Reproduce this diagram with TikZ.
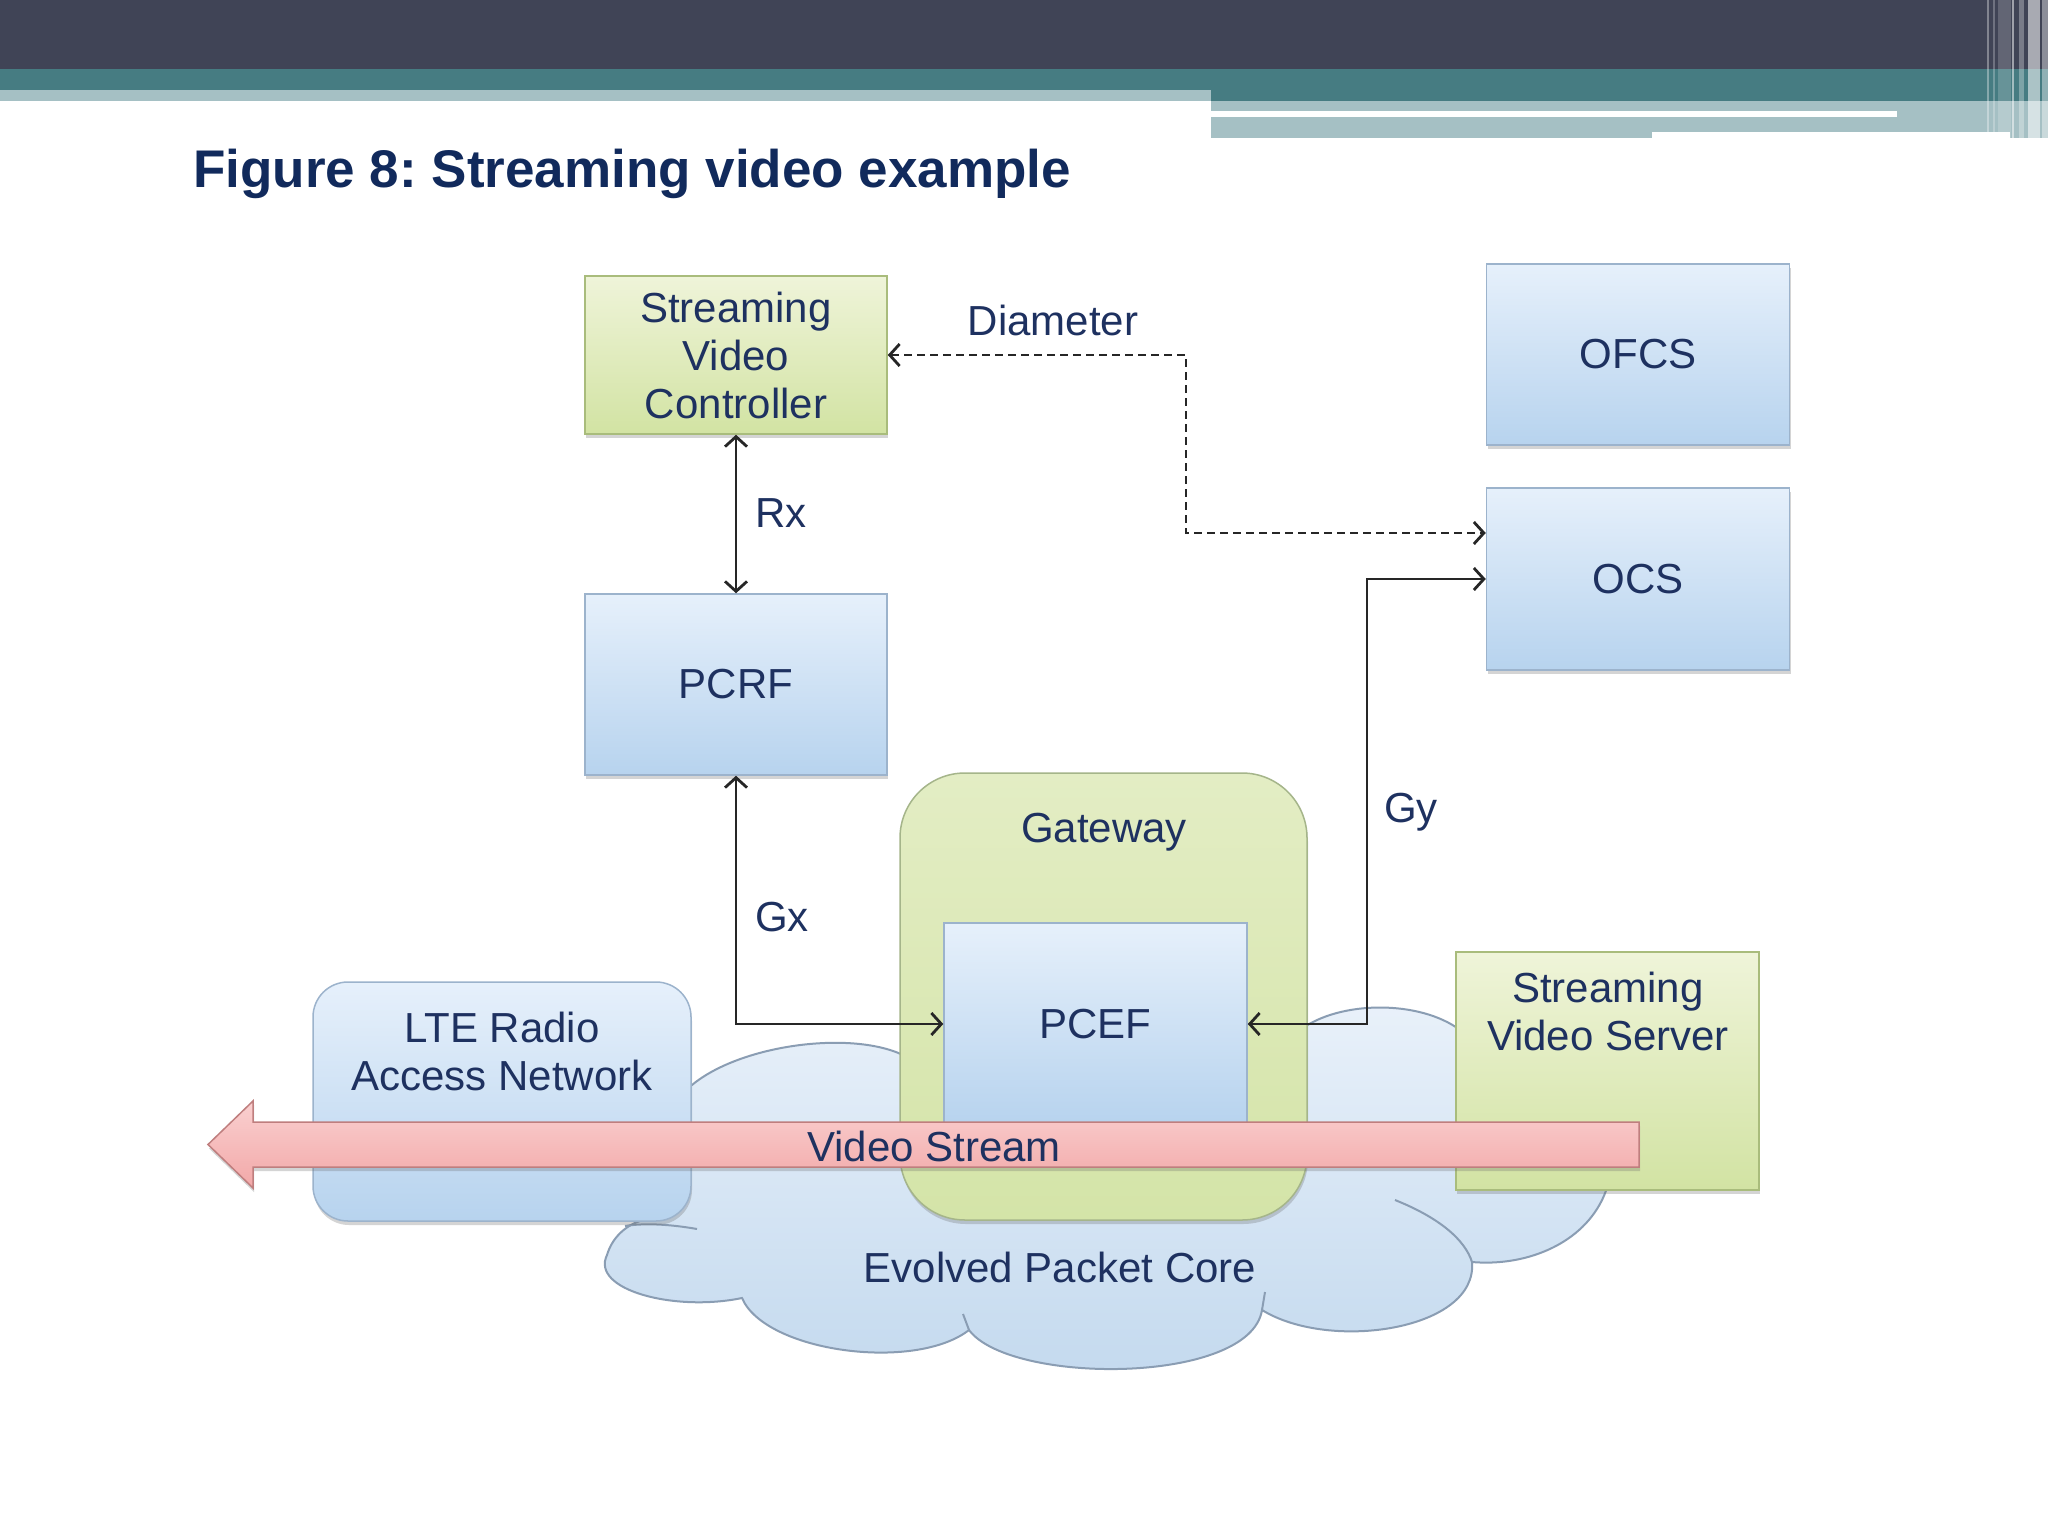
\documentclass[tikz,border=0pt]{standalone}
\usepackage{fontspec}
\setmainfont{Liberation Sans}
\frenchspacing
\usetikzlibrary{arrows.meta,shadows,calc}
\definecolor{hdark}{HTML}{404456}
\definecolor{hteal}{HTML}{467C82}
\definecolor{hlight}{HTML}{A5C0C4}
\definecolor{titlenavy}{HTML}{112A5C}
\definecolor{navy}{HTML}{1E3160}
\definecolor{bluetop}{HTML}{E6F0FB}
\definecolor{bluebot}{HTML}{B7D3EE}
\definecolor{blueedge}{HTML}{9CB3CC}
\definecolor{greentop}{HTML}{EFF4D9}
\definecolor{greenbot}{HTML}{D2E3A3}
\definecolor{greenedge}{HTML}{A9BC7C}
\definecolor{gatefill}{HTML}{E3EDC4}
\definecolor{gatebot}{HTML}{D4E4A8}
\definecolor{gateedge}{HTML}{A5B58A}
\definecolor{cloudtop}{HTML}{E9F1FA}
\definecolor{cloudbot}{HTML}{C3D9EE}
\definecolor{cloudedge}{HTML}{8A9DB3}
\definecolor{pinktop}{HTML}{FAD0D0}
\definecolor{pinkbot}{HTML}{F2A8A8}
\definecolor{pinkedge}{HTML}{BF7E7E}
\tikzset{
  txt/.style={font=\fontsize{42}{48}\selectfont, text=navy, align=center, inner sep=0pt},
  boxbase/.style={txt, draw, line width=1.5pt},
  shade/.style={drop shadow={shadow xshift=1pt, shadow yshift=-4pt, opacity=0.28, fill=black!60}},
  bluebox/.style={boxbase, draw=blueedge, top color=bluetop, bottom color=bluebot, shade},
  greenbox/.style={boxbase, draw=greenedge, top color=greentop, bottom color=greenbot, shade},
  gatebox/.style={boxbase, draw=gateedge, top color=gatefill, bottom color=gatebot, rounded corners=65pt, shade},
  conn/.style={draw=black!85, line width=2.8pt, {Straight Barb[length=10pt,width=22pt]}-{Straight Barb[length=10pt,width=22pt]}},
  dconn/.style={conn, dash pattern=on 8pt off 5pt},
  lbl/.style={txt},
}
\begin{document}
\begin{tikzpicture}[x=1pt,y=-1pt]
\useasboundingbox (0,0) rectangle (2048,1536);
\fill[white] (0,0) rectangle (2048,1536);
% header bands
\fill[hdark] (0,0) rectangle (2048,69);
\fill[hteal] (0,69) rectangle (2048,101);
\fill[hlight] (0,90) rectangle (1211,101);
\fill[hlight] (1211,101) rectangle (2048,138);
\fill[white] (1211,111) rectangle (1897,117);
\fill[white] (1652,132) rectangle (2010,138);
\fill[white,opacity=0.35] (1987,0) rectangle (1989,138);
\fill[white,opacity=0.25] (1993,0) rectangle (1995,138);
\fill[white,opacity=0.18] (1998,0) rectangle (2011,138);
\fill[white,opacity=0.5] (2012,0) rectangle (2014,138);
\fill[white,opacity=0.3] (2019,0) rectangle (2024,138);
\fill[white,opacity=0.55] (2028,0) rectangle (2040,138);
\fill[white,opacity=0.4] (2042,0) rectangle (2048,138);
% title
\node[anchor=base west, inner sep=0pt, text=titlenavy, font=\bfseries\fontsize{53}{60}\selectfont] (title) at (193,187) {Figure 8: Streaming video example};
% cloud
\path[draw=cloudedge, line width=2pt, top color=cloudtop, bottom color=cloudbot]
  (640,1221) -- (640,1090) -- (692,1085)
  .. controls (740,1045) and (850,1030) .. (903,1055)
  -- (1300,1030)
  .. controls (1340,1000) and (1420,1000) .. (1460,1030)
  -- (1612,1150)
  .. controls (1615,1230) and (1540,1268) .. (1472,1262)
  .. controls (1478,1330) and (1330,1352) .. (1262,1310)
  .. controls (1250,1385) and (1010,1385) .. (969,1330)
  .. controls (915,1372) and (765,1352) .. (742,1298)
  .. controls (675,1312) and (590,1290) .. (607,1255)
  .. controls (612,1238) and (625,1226) .. (640,1221) -- cycle;
\draw[cloudedge, line width=2pt] (1395,1200) .. controls (1440,1218) and (1465,1240) .. (1472,1262);
\draw[cloudedge, line width=2pt] (625,1226) .. controls (650,1222) and (680,1226) .. (697,1229);
\draw[cloudedge, line width=2pt] (969,1330) -- (963,1314);
\draw[cloudedge, line width=2pt] (1262,1310) -- (1265,1292);
\node[txt] (epc) at (1060,1267) {Evolved Packet Core};
% boxes
\node[greenbox, minimum width=302pt, minimum height=158pt] (svc) at (736,355) {Streaming\\Video\\Controller};
\node[bluebox, minimum width=303pt, minimum height=181pt] (ofcs) at (1638,354.5) {OFCS};
\node[bluebox, minimum width=303pt, minimum height=182pt] (ocs) at (1638,579) {OCS};
\node[bluebox, minimum width=302pt, minimum height=181pt] (pcrf) at (736,684.5) {PCRF};
\node[bluebox, rounded corners=35pt, minimum width=378pt, minimum height=239pt] (lte) at (502,1101.5) {};
\node[txt] (ltetext) at (502,1051) {LTE Radio\\Access Network};
\node[gatebox, minimum width=407pt, minimum height=447pt] (gw) at (1103.5,996.5) {};
\node[txt] (gwtext) at (1104,832) {Gateway};
\node[boxbase, draw=blueedge, top color=bluetop, bottom color=bluebot, minimum width=303pt, minimum height=202pt] (pcef) at (1095.5,1024) {PCEF};
\node[greenbox, minimum width=303pt, minimum height=238pt] (svs) at (1607.5,1071) {};
\node[txt] (svstext) at (1608,1011) {Streaming\\Video Server};
% video stream arrow
\path[draw=pinkedge, line width=1.5pt, top color=pinktop, bottom color=pinkbot, shade]
  (1639,1122) -- (253,1122) -- (253,1101) -- (208,1144.5) -- (253,1188) -- (253,1167) -- (1639,1167) -- cycle;
\node[txt] (vs) at (934,1146) {Video Stream};
% connectors
\coordinate (gyc) at (1367,1024);
\coordinate (dmc) at (1186,533);
\draw[conn] (svc.south) -- (pcrf.north);
\draw[conn] (pcrf.south) |- (pcef.west);
\draw[conn] (pcef.east) -- (gyc) |- (ocs.west);
\draw[dconn] (svc.east) -| (dmc) -- (dmc -| ocs.west);
% labels
\node[lbl, anchor=west] (rx) at (755,513) {Rx};
\node[lbl, anchor=west] (gx) at (755,917) {Gx};
\node[lbl, anchor=west] (gy) at (1384,812) {Gy};
\node[lbl] (dia) at (1053,320) {Diameter};
\end{tikzpicture}
\end{document}
